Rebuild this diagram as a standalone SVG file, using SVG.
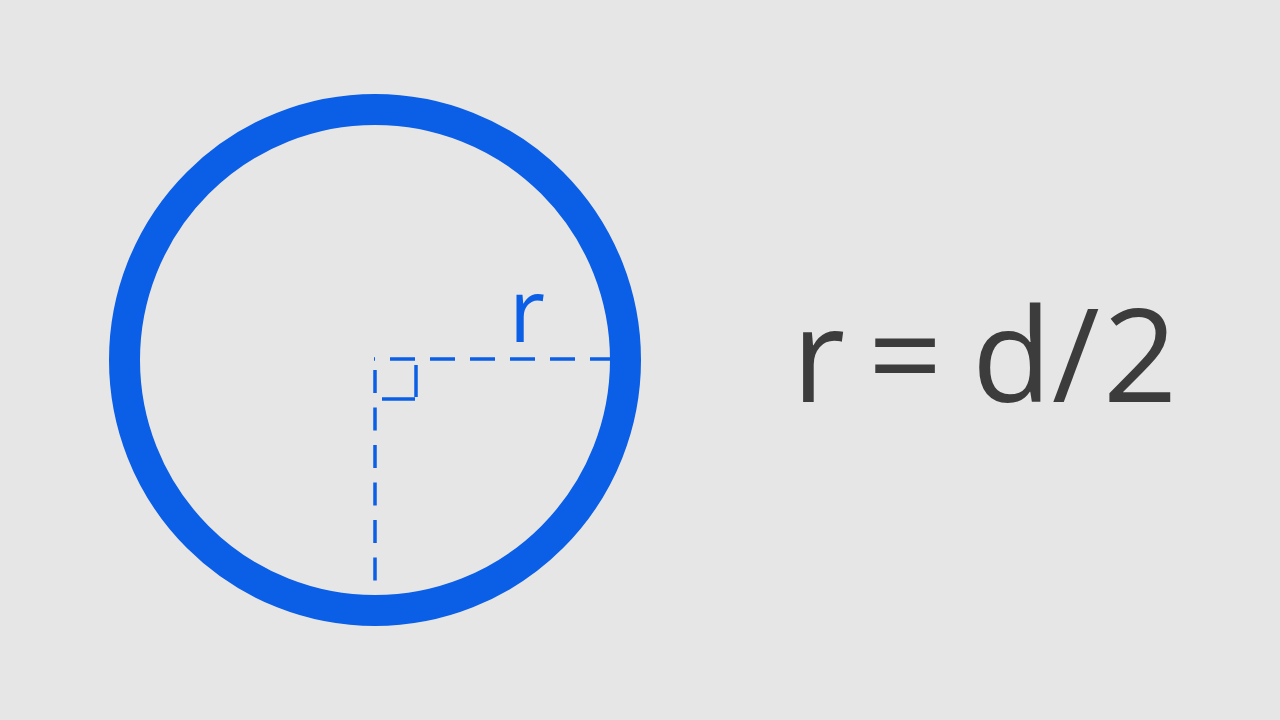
<svg xmlns="http://www.w3.org/2000/svg" width="1280" height="720" viewBox="0 0 1280 720">
<style>
.blue{stroke:#0a5fe6;fill:none}
.dash{stroke:#0a5fe6;stroke-width:3.5;fill:none}
.lbl{font-family:"Open Sans","Noto Sans",sans-serif;fill:#0a5fe6}
.formula{font-family:"Open Sans","Noto Sans",sans-serif;fill:#3c3c3c}
</style>
<rect width="1280" height="720" fill="#e6e6e6"/>
<g id="circle">
<circle class="blue" cx="375" cy="360" r="250.5" stroke-width="31"/>
</g>
<g id="connectors">
<line class="dash" x1="374" y1="359" x2="612" y2="359" stroke-dasharray="25 15" stroke-dashoffset="24"/>
<line class="dash" x1="375" y1="370" x2="375" y2="595" stroke-dasharray="23 14.5"/>
<line class="dash" x1="416" y1="365" x2="416" y2="397"/>
<line class="dash" x1="382" y1="399" x2="415" y2="399"/>
</g>
<g id="label-r">
<text class="lbl" x="509" y="342" font-size="88">r</text>
</g>
<g id="formula">
<text class="formula" x="792 840 868 950 972 1052 1103" y="402" font-size="130">r = d/2</text>
</g>
</svg>
